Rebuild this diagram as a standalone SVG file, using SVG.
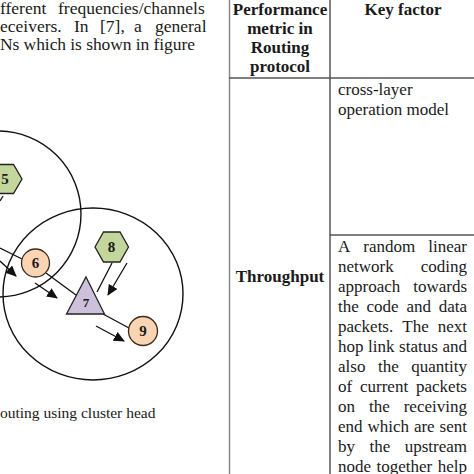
<svg xmlns="http://www.w3.org/2000/svg" width="474" height="474" viewBox="0 0 474 474">
<style>
.t{font-family:"Liberation Serif","Times New Roman",serif;font-size:17px;fill:#1a1a1a}
.b{font-weight:bold}
.lbl{font-family:"Liberation Serif","Times New Roman",serif;font-weight:bold;font-size:15px;fill:#1a1a1a;text-anchor:middle}
.rng{fill:none;stroke:#111;stroke-width:1.4}
.hex{fill:#C3D69B;stroke:#222;stroke-width:1.3}
.cir{fill:#FBD4B4;stroke:#3a2a1a;stroke-width:1.3}
.tri{fill:#CCC0DA;stroke:#222;stroke-width:1.3}
.ln{stroke:#111;stroke-width:1.3;fill:none}
.ar{stroke:#111;stroke-width:1.3;fill:none;marker-end:url(#ah)}
.grid{stroke:#555;stroke-width:1.5}
</style>
<defs>
<marker id="ah" markerUnits="userSpaceOnUse" markerWidth="11" markerHeight="10" refX="10" refY="5" orient="auto">
<path d="M0,0 L11,5 L0,10 z" fill="#111"/>
</marker>
</defs>
<rect width="474" height="474" fill="#fff"/>

<g id="paragraph">
<text class="t" y="14" style="font-size:17.5px"><tspan x="0">fferent</tspan><tspan x="58">frequencies/channels</tspan></text>
<text class="t" y="32" style="font-size:17.5px"><tspan x="0">eceivers.</tspan><tspan x="74">In</tspan><tspan x="100">[7],</tspan><tspan x="134">a</tspan><tspan x="155">general</tspan></text>
<text class="t" y="50" style="font-size:17.5px" textLength="195" lengthAdjust="spacing">Ns which is shown in figure</text>
</g>

<g id="ranges">
<circle class="rng" cx="-2" cy="214" r="83"/>
<ellipse class="rng" cx="93" cy="294" rx="90" ry="86"/>
</g>

<g id="connectors">
<line class="ln" x1="0" y1="248" x2="22" y2="259"/>
<line class="ln" x1="46" y1="273" x2="76" y2="295"/>
<line class="ln" x1="112" y1="263" x2="97" y2="292"/>
<line class="ln" x1="103" y1="314" x2="129" y2="328"/>
<line class="ln" x1="3" y1="196" x2="0" y2="201"/>
<line class="ar" x1="0" y1="261" x2="16" y2="276"/>
<line class="ar" x1="35" y1="283" x2="57" y2="298"/>
<line class="ar" x1="127" y1="263" x2="108" y2="295"/>
<line class="ar" x1="96" y1="326" x2="124" y2="341"/>
</g>

<g id="node5">
<polygon class="hex" points="-12,179 -3.5,164.5 13.5,164.5 22,179 13.5,193.5 -3.5,193.5"/>
<text class="lbl" x="5" y="184">5</text>
</g>
<g id="node8">
<polygon class="hex" points="95,247 103.5,232 120,232 128.5,247 120,262 103.5,262"/>
<text class="lbl" x="111.5" y="252">8</text>
</g>
<g id="node6">
<circle class="cir" cx="35.5" cy="263" r="14"/>
<text class="lbl" x="35.5" y="268">6</text>
</g>
<g id="node9">
<circle class="cir" cx="143" cy="331" r="14.5"/>
<text class="lbl" x="143" y="336">9</text>
</g>
<g id="node7">
<polygon class="tri" points="86,277 104.5,314 66.5,314"/>
<text class="lbl" x="86" y="307" style="font-size:13px">7</text>
</g>

<g id="caption">
<text class="t" x="0" y="418" style="font-size:15.5px">outing using cluster head</text>
</g>

<g id="table">
<line x1="229.5" y1="0" x2="229.5" y2="474" stroke="#8a8a8a" stroke-width="1.5"/>
<line class="grid" x1="330" y1="0" x2="330" y2="474"/>
<line class="grid" x1="229" y1="78" x2="474" y2="78"/>
<line class="grid" x1="330" y1="235" x2="474" y2="235"/>
<g class="t b" text-anchor="middle">
<text x="280" y="15">Performance</text>
<text x="280" y="34">metric in</text>
<text x="280" y="53">Routing</text>
<text x="280" y="72">protocol</text>
<text x="403" y="15">Key factor</text>
<text x="280" y="282">Throughput</text>
</g>
<g class="t">
<text x="338" y="95">cross-layer</text>
<text x="338" y="115">operation model</text>
<text y="252"><tspan x="338">A</tspan><tspan x="363.3">random</tspan><tspan x="428.3">linear</tspan></text>
<text y="272"><tspan x="338">network</tspan><tspan x="420.7">coding</tspan></text>
<text y="292"><tspan x="338">approach</tspan><tspan x="413.2">towards</tspan></text>
<text y="312"><tspan x="338">the</tspan><tspan x="366.5">code</tspan><tspan x="406.4">and</tspan><tspan x="438.7">data</tspan></text>
<text y="332"><tspan x="338">packets.</tspan><tspan x="402.3">The</tspan><tspan x="437.7">next</tspan></text>
<text y="352"><tspan x="338">hop</tspan><tspan x="368.1">link</tspan><tspan x="399.1">status</tspan><tspan x="442.5">and</tspan></text>
<text y="372"><tspan x="338">also</tspan><tspan x="378">the</tspan><tspan x="411.3">quantity</tspan></text>
<text y="392"><tspan x="338">of</tspan><tspan x="360">current</tspan><tspan x="416">packets</tspan></text>
<text y="412"><tspan x="338">on</tspan><tspan x="369">the</tspan><tspan x="403.7">receiving</tspan></text>
<text y="432"><tspan x="338">end</tspan><tspan x="367.5">which</tspan><tspan x="413.9">are</tspan><tspan x="439.6">sent</tspan></text>
<text y="452"><tspan x="338">by</tspan><tspan x="369.5">the</tspan><tspan x="404.7">upstream</tspan></text>
<text y="472"><tspan x="338">node</tspan><tspan x="376.5">together</tspan><tspan x="437.7">help</tspan></text>
</g>
</g>
</svg>
